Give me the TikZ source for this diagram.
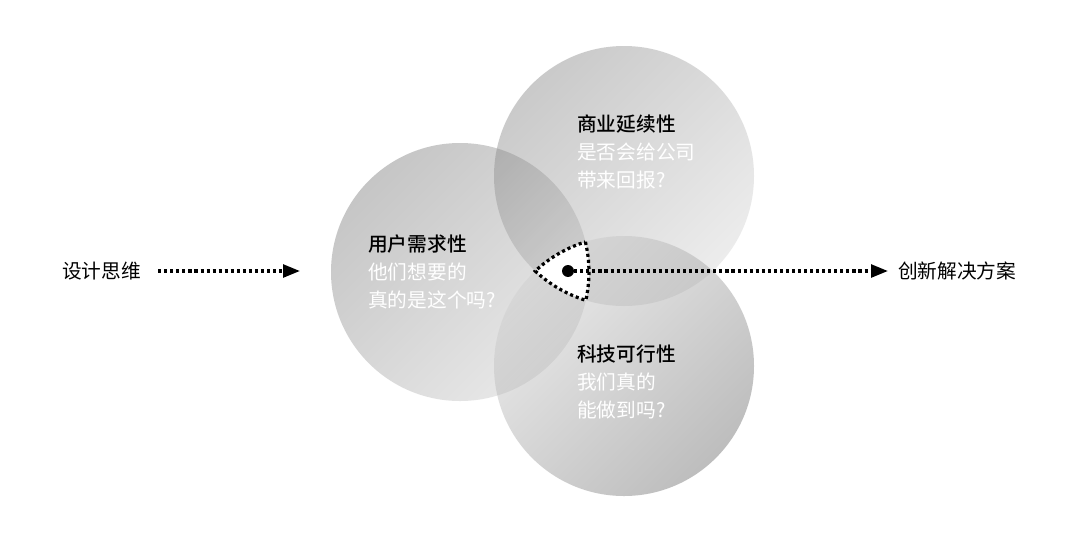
\documentclass[tikz,border=0pt]{standalone}
\usepackage{fontspec}
\setmainfont{Noto Sans CJK SC}[BoldFont={Noto Sans CJK SC Medium}]
\usepackage{tikz}
\usetikzlibrary{arrows.meta}

\begin{document}
\begin{tikzpicture}[x=0.025cm, y=-0.025cm,
        dotline/.style={line width=2.3pt, dash pattern=on 2.2pt off 2.1pt},
        ring/.style={fill opacity=0.4},
        tip/.style={-{Triangle[length=12pt, width=9pt]}},
        caption/.style={inner sep=0pt, anchor=west, align=left, font=\fontsize{14pt}{19.8pt}\selectfont}]
    \useasboundingbox[fill=white] (0, 0) rectangle (1080, 542);

    % three circles
    \shade[ring, top color=black!56, bottom color=black!22, shading angle=45] (460, 272) circle[radius=129];
    \shade[ring, top color=black!52, bottom color=black!18, shading angle=45] (624, 176) circle[radius=130];
    \shade[ring, top color=black!20, bottom color=black!64, shading angle=45] (624, 366) circle[radius=130];

    % where all three meet
    \path[fill=white, draw=black, dotline] (585.4, 241.9)
        arc[start angle=-13.5, end angle=12.67, radius=129]
        arc[start angle=107.04, end angle=133.03, radius=130]
        arc[start angle=226.97, end angle=252.72, radius=130] -- cycle;

    \node[shape=circle, fill=black, inner sep=0pt, minimum size=8.5pt] (core) at (568, 271) {};

    \node[caption] (user) at (368, 272) {\textbf{用户需求性}\\\textcolor{white}{他们想要的}\\\textcolor{white}{真的是这个吗?}};
    \node[caption] (biz) at (577, 152) {\textbf{商业延续性}\\\textcolor{white}{是否会给公司}\\\textcolor{white}{带来回报?}};
    \node[caption] (tech) at (577, 382) {\textbf{科技可行性}\\\textcolor{white}{我们真的}\\\textcolor{white}{能做到吗?}};

    \node[caption] (think) at (62, 271) {设计思维};
    \node[caption, inner sep=7pt] (sol) at (888, 271) {创新解决方案};
    \coordinate (lin) at (300, 271);

    \draw[dotline, tip, shorten <=12pt] (think.east) -- (lin);
    \draw[dotline, tip] (core) -- (sol.west);
\end{tikzpicture}
\end{document}
